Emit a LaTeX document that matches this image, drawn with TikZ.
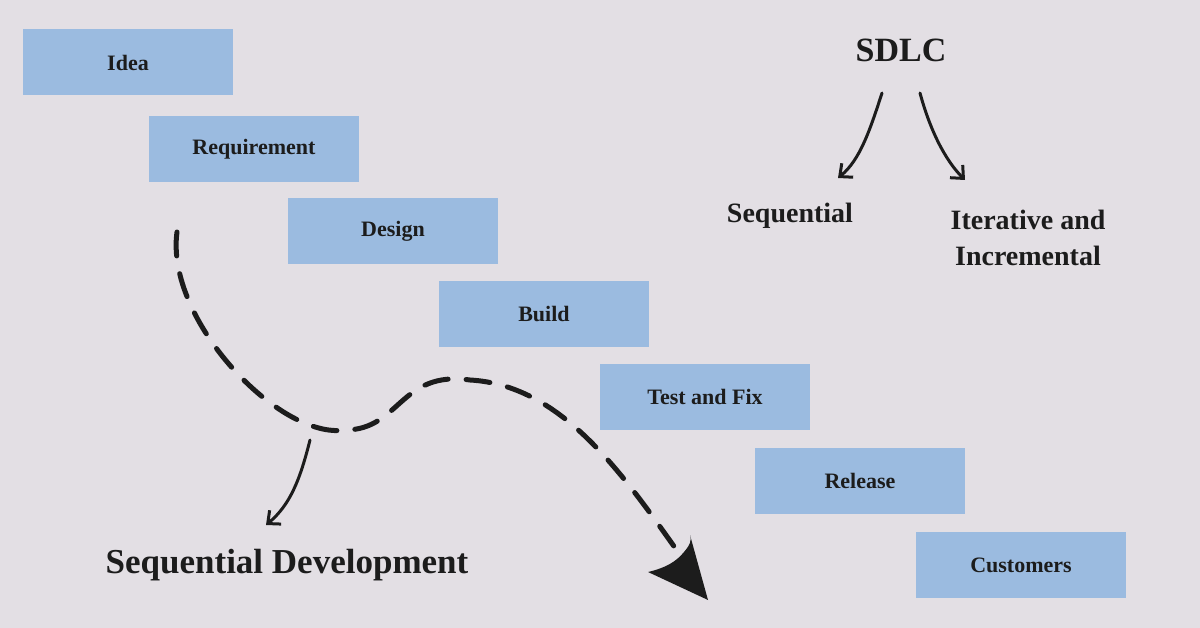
\documentclass[tikz,border=0pt]{standalone}
\usepackage{fontspec}
\setmainfont{Liberation Serif}
\usetikzlibrary{arrows.meta}
\definecolor{bg}{HTML}{E3DFE4}
\definecolor{boxc}{HTML}{9BBBE0}
\definecolor{ink}{HTML}{1C1C1C}
\tikzset{
  stepbox/.style={fill=boxc,minimum width=210pt,minimum height=66pt,inner sep=0,font=\fontsize{22}{26}\selectfont\bfseries,text=ink},
  big/.style={font=\fontsize{28}{36}\selectfont\bfseries,text=ink,align=center},
  arr/.style={ink,line width=3pt,line cap=round,-{Straight Barb[length=10pt,width=18pt]}}
}
\begin{document}
\begin{tikzpicture}[x=1pt,y=-1pt]
\fill[bg] (0,0) rectangle (1200,628);
\useasboundingbox (0,0) rectangle (1200,628);
\node[stepbox] (idea) at (128,62.5) {Idea};
\node[stepbox] (req) at (254,149) {Requirement};
\node[stepbox] (des) at (393,231) {Design};
\node[stepbox] (bld) at (544,314) {Build};
\node[stepbox] (tst) at (705,397) {Test and Fix};
\node[stepbox] (rel) at (860,481) {Release};
\node[stepbox] (cus) at (1021,565) {Customers};
\node[big,font=\fontsize{34}{40}\selectfont\bfseries] (sdlc) at (901,50) {SDLC};
\node[big] (seq) at (790,216) {Sequential};
\node[big] (iter) at (1028,238) {Iterative and\\Incremental};
\node[big,font=\fontsize{35}{40}\selectfont\bfseries] (sd) at (287,565) {Sequential Development};
\coordinate (c1) at (882,93);
\coordinate (c2) at (838,178);
\coordinate (c3) at (920,93);
\coordinate (c4) at (965,180);
\draw[arr] (c1) .. controls (870,130) and (860,160) .. (c2);
\draw[arr] (c3) .. controls (930,130) and (945,160) .. (c4);
\coordinate (d1) at (310,440);
\coordinate (d2) at (266,525);
\draw[arr] (d1) .. controls (300,480) and (290,505) .. (d2);
\coordinate (p0) at (177,232);
\coordinate (p1) at (345,430);
\coordinate (p2) at (470,380);
\coordinate (p3) at (678,552);
\draw[ink,line width=5pt,dash pattern=on 24pt off 18pt,line cap=round]
 (p0) .. controls (165,320) and (280,440) .. (p1)
 .. controls (400,430) and (400,370) .. (p2)
 .. controls (560,385) and (620,470) .. (p3);
\coordinate (tip) at (708,600);
\fill[ink] (tip) -- (648,572) .. controls (665,568) and (676,562) .. (684,552) .. controls (690,545) and (692,540) .. (690,535) -- cycle;
\end{tikzpicture}
\end{document}
